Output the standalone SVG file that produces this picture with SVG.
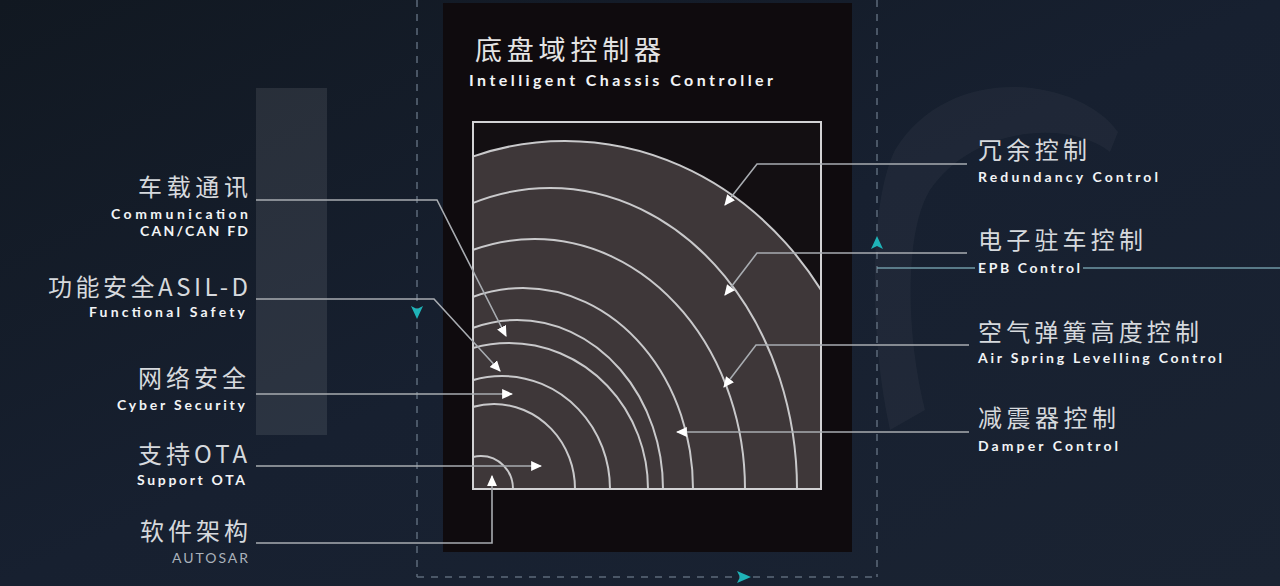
<svg xmlns="http://www.w3.org/2000/svg" width="1280" height="586" viewBox="0 0 1280 586">
<defs>
<linearGradient id="bg" x1="0" y1="0" x2="1" y2="1">
<stop offset="0" stop-color="#111821"/>
<stop offset="0.5" stop-color="#172030"/>
<stop offset="1" stop-color="#1a2332"/>
</linearGradient>
<clipPath id="innerClip"><rect x="473" y="122" width="348" height="367"/></clipPath>
<marker id="ah" viewBox="0 0 10 10" refX="9" refY="5" markerWidth="11" markerHeight="11" markerUnits="userSpaceOnUse" orient="auto">
<path d="M0,0.5 L10,5 L0,9.5 Z" fill="#ffffff"/>
</marker>
<style>
.dash{stroke:#5c6a7a;stroke-width:1.5;stroke-dasharray:7 7;fill:none}
.conn{stroke:#a8acb1;stroke-width:1.6;fill:none;marker-end:url(#ah)}
.arc{fill:none;stroke:#c9c9cb;stroke-width:2}
.cn{font-family:"Noto Sans CJK SC","Noto Sans",sans-serif;font-size:24px;fill:#d6d9dd}
.en{font-family:"Lato","Noto Sans",sans-serif;font-weight:bold;font-size:14px;fill:#f2f4f6}
.cyan{fill:#1fb3b8}
</style>
</defs>
<rect width="1280" height="586" fill="url(#bg)"/>
<!-- faint C shape -->
<path d="M1118,132 C1080,78 950,60 895,150 C870,200 868,330 890,430 L925,410 C905,330 905,230 930,190 C975,125 1070,120 1110,152 Z" fill="#ffffff" fill-opacity="0.035"/>
<!-- translucent panel -->
<rect x="256" y="88" width="71" height="347" fill="#ffffff" fill-opacity="0.09"/>
<!-- dashed frame -->
<g id="frame">
<line class="dash" x1="417" y1="0" x2="417" y2="577"/>
<line class="dash" x1="877" y1="0" x2="877" y2="577"/>
<line class="dash" x1="417" y1="577" x2="877" y2="577"/>
<path class="cyan" d="M411,306 L417,309 L423,306 L417,319 Z"/>
<path class="cyan" d="M871,249 L877,246 L883,249 L877,236 Z"/>
<path class="cyan" d="M737,571 L740,577 L737,583 L751,577 Z"/>
</g>
<!-- main controller box -->
<g id="controller">
<rect x="443" y="3" width="409" height="549" fill="#0f0b0e"/>
<text x="475" y="60" class="cn" style="font-size:27px;fill:#e4e4e4" textLength="186" lengthAdjust="spacing">底盘域控制器</text>
<text x="469" y="86" class="en" style="font-size:16px" textLength="304" lengthAdjust="spacing">Intelligent Chassis Controller</text>
<rect x="473" y="122" width="348" height="367" fill="#130f12"/>
<g clip-path="url(#innerClip)">
<ellipse cx="565" cy="489" rx="312" ry="348" fill="#3e3739" stroke="#c9c9cb" stroke-width="2"/>
<ellipse class="arc" cx="550" cy="489" rx="247" ry="301"/>
<ellipse class="arc" cx="534.5" cy="489" rx="210.5" ry="250"/>
<ellipse class="arc" cx="523" cy="489" rx="170" ry="201"/>
<ellipse class="arc" cx="517" cy="489" rx="146" ry="169"/>
<ellipse class="arc" cx="509" cy="489" rx="139" ry="146"/>
<ellipse class="arc" cx="502" cy="489" rx="108" ry="113"/>
<ellipse class="arc" cx="494" cy="489" rx="81" ry="85"/>
<ellipse class="arc" cx="481" cy="489" rx="32" ry="33"/>
</g>
<rect x="473" y="122" width="348" height="367" fill="none" stroke="#d2d2d4" stroke-width="2"/>
</g>
<!-- connectors -->
<g id="connectors">
<polyline class="conn" points="256,200 437,200 506,336"/>
<polyline class="conn" points="256,299 434,299 500,371"/>
<polyline class="conn" points="256,394 512,394"/>
<polyline class="conn" points="256,466 541,466"/>
<polyline class="conn" points="256,543 492,543 492,476"/>
<polyline class="conn" points="967,164 757,164 725,205"/>
<polyline class="conn" points="967,253 757,253 725,295"/>
<polyline class="conn" points="969,345 756,345 724,387"/>
<polyline class="conn" points="969,432 677,432"/>
<line x1="877" y1="268" x2="975" y2="268" stroke="#6f98a6" stroke-width="1.5"/>
<line x1="1083" y1="268" x2="1280" y2="268" stroke="#6f98a6" stroke-width="1.5"/>
</g>
<!-- left labels -->
<g id="n-comm">
<text x="248" y="196" class="cn" text-anchor="end" textLength="110" lengthAdjust="spacing">车载通讯</text>
<text x="248" y="219" class="en" text-anchor="end" textLength="137" lengthAdjust="spacing">Communication</text>
<text x="248" y="236" class="en" text-anchor="end" textLength="108" lengthAdjust="spacing">CAN/CAN FD</text>
</g>
<g id="n-safety">
<text x="248" y="296" class="cn" text-anchor="end" textLength="200" lengthAdjust="spacing">功能安全ASIL-D</text>
<text x="245" y="317" class="en" text-anchor="end" textLength="156" lengthAdjust="spacing">Functional Safety</text>
</g>
<g id="n-cyber">
<text x="246" y="387" class="cn" text-anchor="end" textLength="108" lengthAdjust="spacing">网络安全</text>
<text x="245" y="410" class="en" text-anchor="end" textLength="128" lengthAdjust="spacing">Cyber Security</text>
</g>
<g id="n-ota">
<text x="247" y="463" class="cn" text-anchor="end" textLength="109" lengthAdjust="spacing">支持OTA</text>
<text x="245" y="485" class="en" text-anchor="end" textLength="108" lengthAdjust="spacing">Support OTA</text>
</g>
<g id="n-autosar">
<text x="248" y="540" class="cn" text-anchor="end" textLength="108" lengthAdjust="spacing">软件架构</text>
<text x="248" y="563" class="en" text-anchor="end" style="font-weight:normal;fill:#aab2bb" textLength="76" lengthAdjust="spacing">AUTOSAR</text>
</g>
<!-- right labels -->
<g id="n-redundancy">
<text x="978" y="159" class="cn" textLength="109" lengthAdjust="spacing">冗余控制</text>
<text x="978" y="182" class="en" textLength="180" lengthAdjust="spacing">Redundancy Control</text>
</g>
<g id="n-epb">
<text x="978" y="249" class="cn" textLength="165" lengthAdjust="spacing">电子驻车控制</text>
<text x="978" y="273" class="en" textLength="102" lengthAdjust="spacing">EPB Control</text>
</g>
<g id="n-air">
<text x="978" y="341" class="cn" textLength="221" lengthAdjust="spacing">空气弹簧高度控制</text>
<text x="978" y="363" class="en" textLength="244" lengthAdjust="spacing">Air Spring Levelling Control</text>
</g>
<g id="n-damper">
<text x="978" y="427" class="cn" textLength="138" lengthAdjust="spacing">减震器控制</text>
<text x="978" y="451" class="en" textLength="140" lengthAdjust="spacing">Damper Control</text>
</g>
</svg>
